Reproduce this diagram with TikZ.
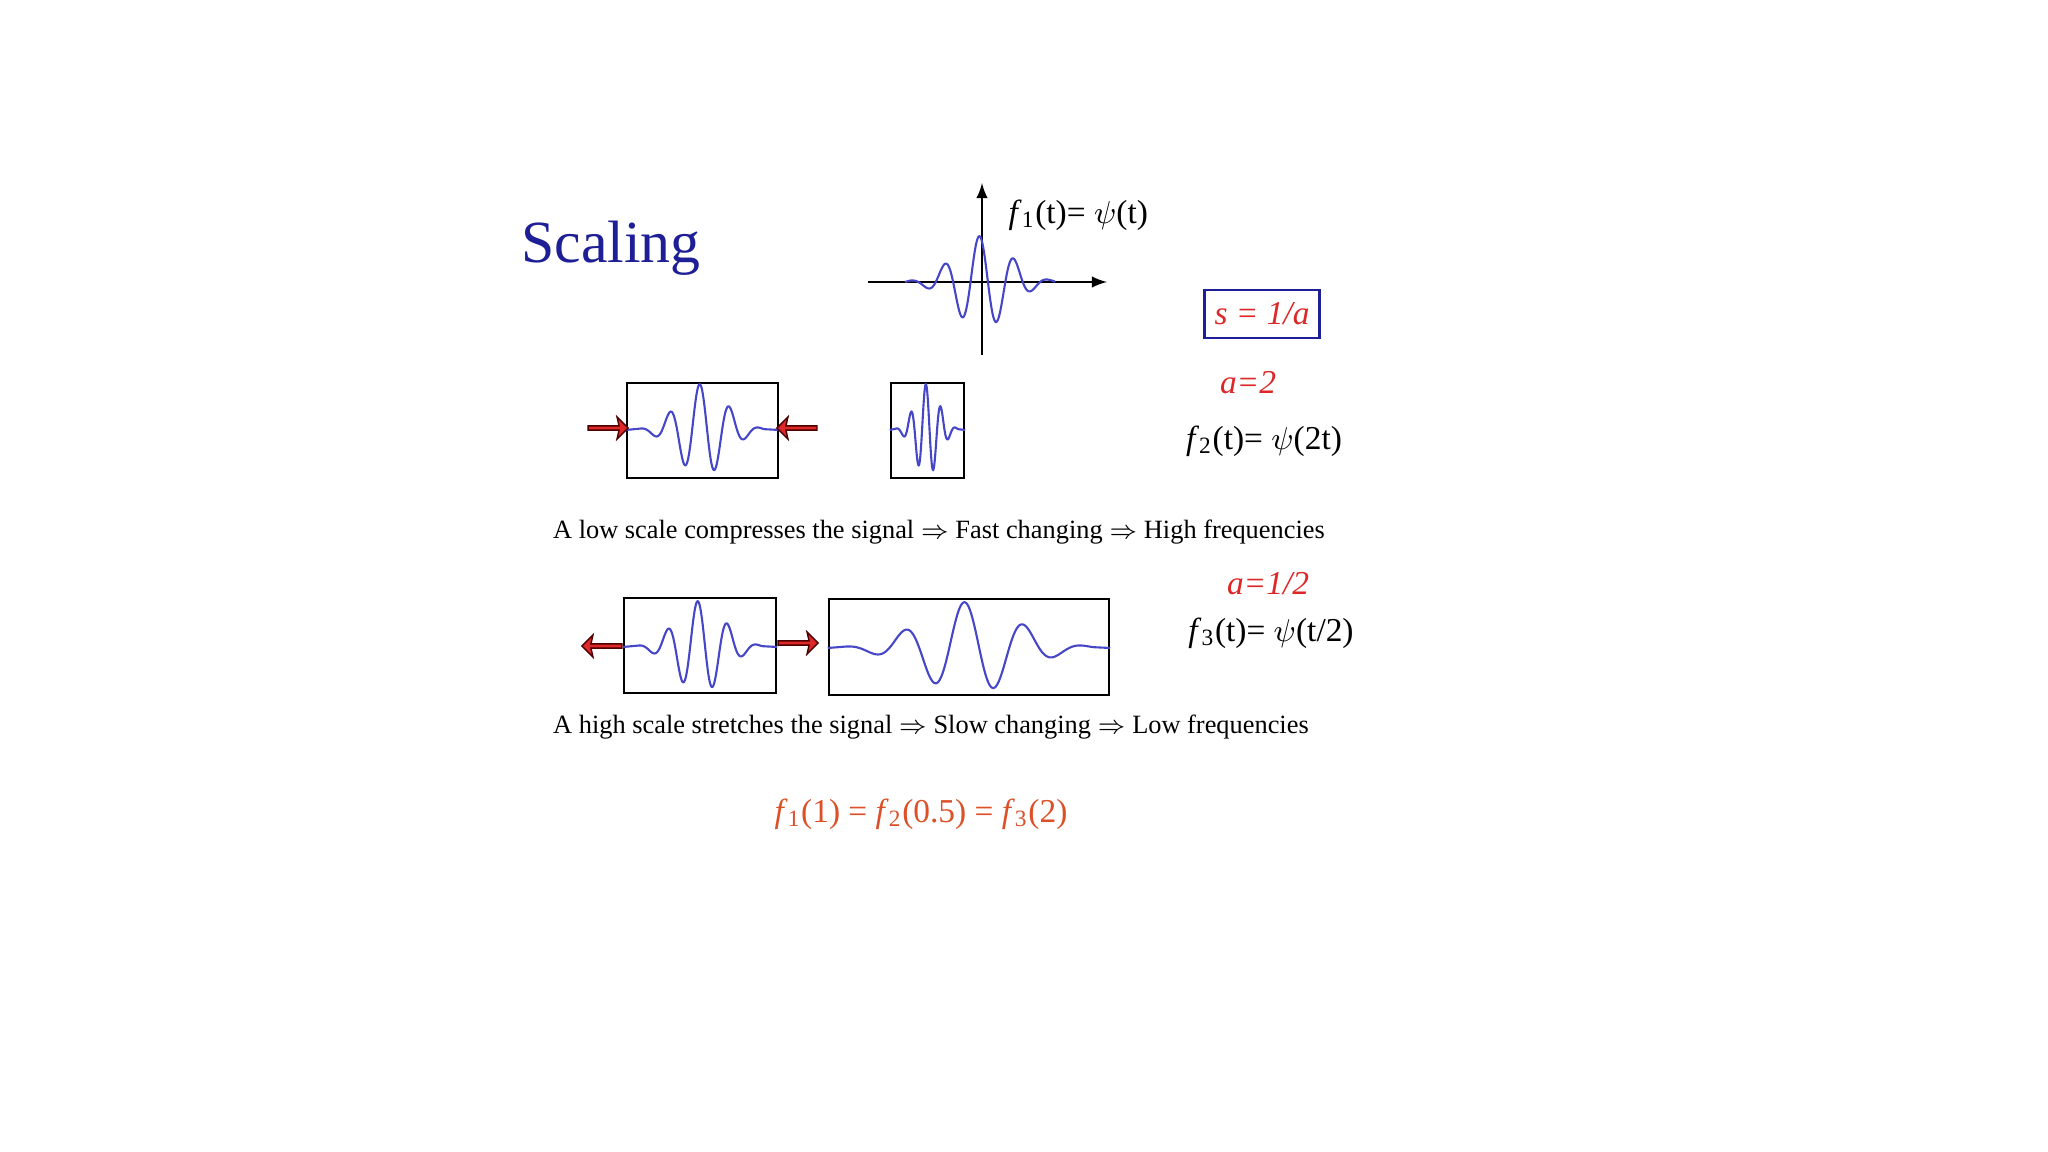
\documentclass[tikz,border=0pt]{standalone}
\usepackage{fontspec}
\setmainfont{Liberation Serif}
\usetikzlibrary{shapes.arrows}
\definecolor{titleblue}{RGB}{30,30,150}
\definecolor{wblue}{RGB}{70,70,200}
\definecolor{ared}{RGB}{220,40,40}
\definecolor{eqor}{RGB}{220,80,40}
\tikzset{
 wave/.style={wblue, line width=0.6pt},
 frame/.style={draw=black, line width=0.7pt},
 fatarrow/.style={single arrow, draw=black!70!red, fill=ared, minimum height=40*0.01cm, minimum width=22*0.01cm, single arrow head extend=3*0.01cm, single arrow head indent=2*0.01cm, inner sep=0pt, line width=0.4pt},
 txt/.style={font=\fontsize{7.5}{9}\selectfont, inner sep=0pt},
 lbl/.style={font=\fontsize{9.5}{11}\selectfont, inner sep=0pt},
 redlbl/.style={font=\fontsize{9.5}{11}\selectfont\itshape, text=ared, inner sep=0pt},
}
\begin{document}
\begin{tikzpicture}[x=0.01cm,y=-0.01cm]
\useasboundingbox (0,0) rectangle (2048,1152);
\node[font=\fontsize{17}{20}\selectfont, text=titleblue] (title) at (611,248) {Scaling};
% axes
\coordinate (vb) at (982,355); \coordinate (vt) at (982,183);
\coordinate (hl) at (868,282); \coordinate (hr) at (1107,282);
\draw[-latex, line width=0.5pt] (vb) -- (vt);
\draw[-latex, line width=0.5pt] (hl) -- (hr);
\draw[wave] (905,282) -- plot[domain=-1:1, samples=250] ({982+72*\x}, {282-46*exp(-3.5*\x*\x)*cos(deg(13*\x+0.5))}) -- (1055,282);
\node[lbl, anchor=west] (f1) at (1008,215) {\textit{f}\textsubscript{1}(t)= $\psi$(t)};
\node[draw=titleblue, line width=0.7pt, minimum width=115*0.01cm, minimum height=48*0.01cm, redlbl] (s) at (1262,314) {s = 1/a};
\node[redlbl] (a2) at (1248,383) {a=2};
\node[lbl] (f2) at (1264,441) {\textit{f}\textsubscript{2}(t)= $\psi$(2t)};
% row 1
\node[frame, minimum width=151*0.01cm, minimum height=95*0.01cm, inner sep=0pt] (b1) at (702.5,430.5) {};
\draw[wave] (b1.west|-0,430) -- plot[domain=-1:1, samples=250] ({702+62*\x}, {430-46*exp(-3.5*\x*\x)*cos(deg(13*\x+0.5))}) -- (b1.east|-0,430);
\node[fatarrow] (ar1) at (607,428) {};
\node[fatarrow, shape border rotate=180] (ar2) at (798,428) {};
\node[frame, minimum width=73*0.01cm, minimum height=95*0.01cm, inner sep=0pt] (b2) at (927.5,430.5) {};
\draw[wave] (b2.west|-0,430) -- plot[domain=-1:1, samples=250] ({927+31*\x}, {430-46*exp(-3.5*\x*\x)*cos(deg(13*\x+0.5))}) -- (b2.east|-0,430);
\node[txt] (t1) at (939,532) {A low scale compresses the signal $\Rightarrow$ Fast changing $\Rightarrow$ High frequencies};
% row 2
\node[redlbl] (a3) at (1268,584) {a=1/2};
\node[lbl] (f3) at (1271,633) {\textit{f}\textsubscript{3}(t)= $\psi$(t/2)};
\node[frame, minimum width=152*0.01cm, minimum height=95*0.01cm, inner sep=0pt] (b3) at (700,645.5) {};
\draw[wave] (b3.west|-0,647) -- plot[domain=-1:1, samples=250] ({700+62*\x}, {647-46*exp(-3.5*\x*\x)*cos(deg(13*\x+0.5))}) -- (b3.east|-0,647);
\node[fatarrow, shape border rotate=180] (ar3) at (603,646) {};
\node[fatarrow] (ar4) at (797,643) {};
\node[frame, minimum width=280*0.01cm, minimum height=96*0.01cm, inner sep=0pt] (b4) at (969,647) {};
\draw[wave] (b4.west|-0,648) -- plot[domain=-1:1, samples=300] ({969+124*\x}, {648-46*exp(-3.5*\x*\x)*cos(deg(13*\x+0.5))}) -- (b4.east|-0,648);
\node[txt] (t2) at (931,727) {A high scale stretches the signal $\Rightarrow$ Slow changing $\Rightarrow$ Low frequencies};
\node[lbl, text=eqor] (eq) at (921,814) {\textit{f}\textsubscript{1}(1) = \textit{f}\textsubscript{2}(0.5) = \textit{f}\textsubscript{3}(2)};
\end{tikzpicture}
\end{document}
